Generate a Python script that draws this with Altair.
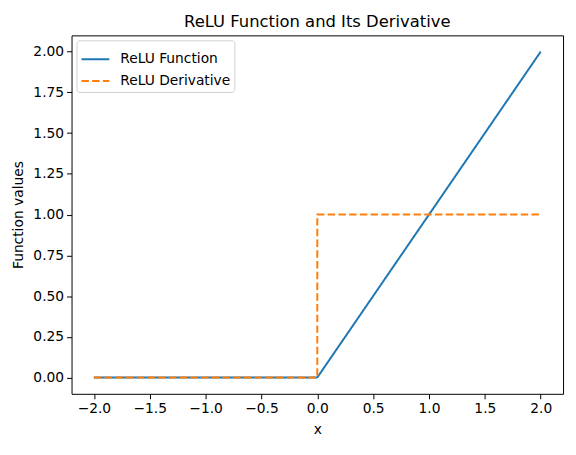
import altair as alt
import pandas as pd

# ReLU sampled at its corners, derivative as a step at 0
relu_x = [-2.0, 0.0, 2.0]
relu_y = [0.0, 0.0, 2.0]
deriv_x = [-2.0, 0.0, 0.0, 2.0]
deriv_y = [0.0, 0.0, 1.0, 1.0]

SERIES = ["ReLU Function", "ReLU Derivative"]
COLORS = ["#1f77b4", "#ff7f0e"]
DASHES = [[1, 0], [7.5, 3.3]]

df = pd.concat(
    [
        pd.DataFrame({"x": relu_x, "y": relu_y, "series": SERIES[0], "order": range(3)}),
        pd.DataFrame({"x": deriv_x, "y": deriv_y, "series": SERIES[1], "order": range(4)}),
    ]
)

font = "DejaVu Sans"

chart = (
    alt.Chart(df, title=alt.Title("ReLU Function and Its Derivative", fontSize=16.5,
                                  fontWeight="normal", font=font, offset=5))
    .mark_line(strokeWidth=2)
    .encode(
        x=alt.X("x:Q", scale=alt.Scale(domain=[-2.2, 2.2], nice=False, zero=False),
                axis=alt.Axis(values=[-2, -1.5, -1, -0.5, 0, 0.5, 1, 1.5, 2], format=".1f",
                              title="x", titlePadding=7)),
        y=alt.Y("y:Q", scale=alt.Scale(domain=[-0.1, 2.1], nice=False, zero=False),
                axis=alt.Axis(values=[0, 0.25, 0.5, 0.75, 1, 1.25, 1.5, 1.75, 2], format=".2f",
                              title="Function values", titlePadding=7)),
        color=alt.Color("series:N", scale=alt.Scale(domain=SERIES, range=COLORS),
                        legend=alt.Legend(title=None, orient="none", legendX=5, legendY=5,
                                          symbolType="stroke", symbolSize=784,
                                          symbolStrokeWidth=2,
                                          labelFontSize=13.9, labelFont=font,
                                          strokeColor="#d0d0d0", fillColor="white",
                                          padding=4, cornerRadius=3, rowPadding=-5,
                                          labelOffset=10)),
        strokeDash=alt.StrokeDash("series:N", scale=alt.Scale(domain=SERIES, range=DASHES),
                                  legend=None),
        order="order:Q",
    )
    .properties(width=495, height=361, autosize=alt.AutoSizeParams(type="none"),
                padding={"left": 64, "top": 26, "right": 5, "bottom": 50})
    .configure_view(stroke="black", strokeWidth=1)
    .configure_axis(grid=False, domain=False, tickColor="black", tickSize=5,
                    labelColor="black", labelFontSize=13.9, labelFont=font,
                    titleFont=font, titleFontSize=13.9, titleFontWeight="normal",
                    titleColor="black", labelPadding=3)
)

chart.save("out.html", embed_options={"renderer": "svg", "actions": False})
